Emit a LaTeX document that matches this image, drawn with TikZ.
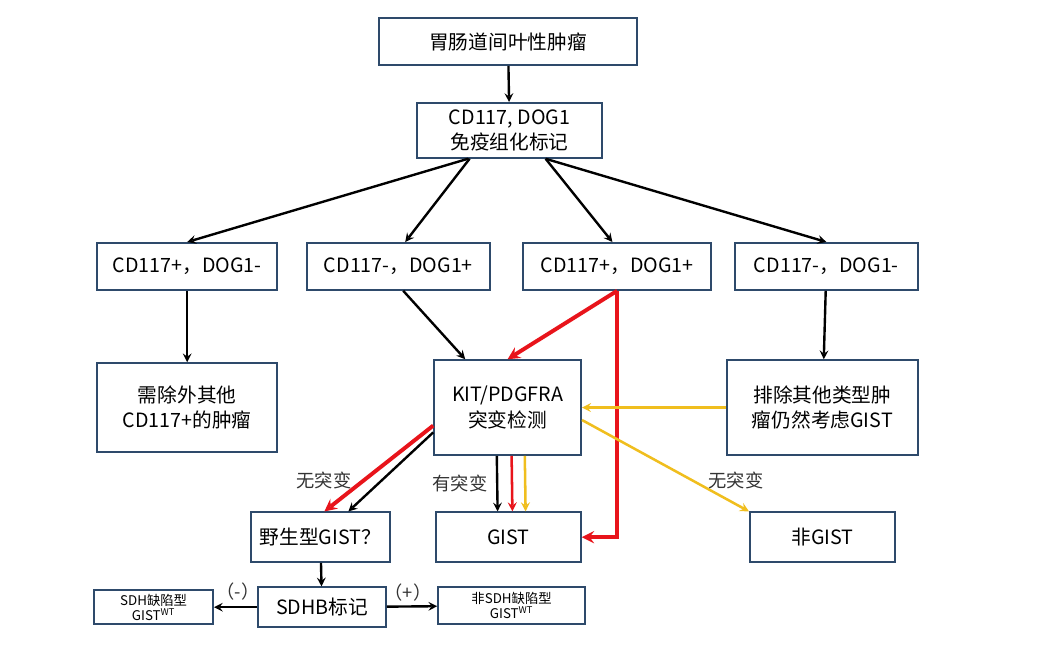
\documentclass[tikz,border=0pt]{standalone}
\usepackage{fontspec}
\setmainfont{Noto Sans CJK SC}
\definecolor{boxc}{HTML}{2E4A6B}
\definecolor{redc}{HTML}{E8141B}
\definecolor{yelc}{HTML}{F0BE1E}
\begin{document}
\begin{tikzpicture}[
    box/.style={rectangle, draw=boxc, line width=1.1pt, align=center, inner sep=0pt, font=\fontsize{14}{18}\selectfont},
    small/.style={box, font=\fontsize{9.5}{11}\selectfont},
    arrow/.style={line width=1.7pt,->,>=stealth},
    redarrow/.style={line width=2.8pt,->,>=stealth,draw=redc},
    yelarrow/.style={line width=1.8pt,->,>=stealth,draw=yelc},
    lab/.style={font=\fontsize{13}{15}\selectfont, text=black!80}
]
    \useasboundingbox (0,0) rectangle (25.95,-16.15);
    % Boxes
    \node [box, minimum width=6.45cm, minimum height=1.18cm] (top) at (12.70,-1.04) {胃肠道间叶性肿瘤};
    \node [box, minimum width=4.63cm, minimum height=1.38cm] (imm) at (12.74,-3.26) {CD117, DOG1\\免疫组化标记};
    \node [box, minimum width=4.5cm, minimum height=1.18cm] (pn) at (4.68,-6.66) {CD117+，DOG1-};
    \node [box, minimum width=4.58cm, minimum height=1.18cm] (np) at (9.96,-6.66) {CD117-，DOG1+};
    \node [box, minimum width=4.7cm, minimum height=1.18cm] (pp) at (15.43,-6.66) {CD117+，DOG1+};
    \node [box, minimum width=4.58cm, minimum height=1.18cm] (nn) at (20.66,-6.66) {CD117-，DOG1-};
    \node [box, minimum width=4.5cm, minimum height=2.23cm] (excl) at (4.68,-10.19) {需除外其他\\CD117+的肿瘤};
    \node [box, minimum width=3.68cm, minimum height=2.38cm] (kit) at (12.69,-10.19) {KIT/PDGFRA\\突变检测};
    \node [box, minimum width=4.78cm, minimum height=2.38cm] (other) at (20.56,-10.19) {排除其他类型肿\\瘤仍然考虑GIST};
    \node [box, minimum width=3.48cm, minimum height=1.25cm] (wild) at (8.01,-13.43) {野生型GIST？};
    \node [box, minimum width=3.63cm, minimum height=1.25cm] (gist) at (12.71,-13.43) {GIST};
    \node [box, minimum width=3.63cm, minimum height=1.25cm] (nogist) at (20.56,-13.43) {非GIST};
    \node [box, minimum width=3.2cm, minimum height=1.0cm] (sdhb) at (8.05,-15.18) {SDHB标记};
    \node [small, minimum width=2.98cm, minimum height=0.85cm] (sdhd) at (3.84,-15.18) {SDH缺陷型\\GIST$^{\mathrm{WT}}$};
    \node [small, minimum width=3.68cm, minimum height=0.93cm] (nsdh) at (12.79,-15.14) {非SDH缺陷型\\GIST$^{\mathrm{WT}}$};

    % Arrows
    \draw [arrow] (top) -- (imm);
    \draw [arrow] ([xshift=-1.04cm]imm.south) -- (pn.north);
    \draw [arrow] ([xshift=-1cm]imm.south) -- ([xshift=0.17cm]np.north);
    \draw [arrow] ([xshift=0.9cm]imm.south) -- ([xshift=-0.12cm]pp.north);
    \draw [arrow] ([xshift=0.9cm]imm.south) -- (nn.north);
    \draw [arrow] (pn) -- (excl);
    \draw [arrow] ([xshift=0.12cm]np.south) -- ([xshift=-1.06cm]kit.north);
    \draw [arrow] (nn) -- (other);
    \draw [redarrow] (pp.south) -- (kit.north);
    \draw [redarrow] (pp.south) |- (gist.east);
    \draw [yelarrow] (other.west) -- (kit.east);
    \draw [yelarrow] ([yshift=-0.31cm]kit.east) -- (nogist.north west);
    \draw [redarrow] ([yshift=-0.45cm]kit.west) -- ([xshift=0.1cm]wild.north);
    \draw [arrow] ([yshift=-0.62cm]kit.west) -- ([xshift=0.7cm]wild.north);
    \draw [arrow] ([xshift=-0.27cm]kit.south) -- ([xshift=-0.27cm]gist.north);
    \draw [redarrow, line width=1.8pt] ([xshift=0.1cm]kit.south) -- ([xshift=0.1cm]gist.north);
    \draw [yelarrow] ([xshift=0.43cm]kit.south) -- ([xshift=0.43cm]gist.north);
    \draw [arrow] (wild) -- (sdhb);
    \draw [arrow] (sdhb) -- (sdhd);
    \draw [arrow] (sdhb) -- (nsdh);

    % Labels
    \node [lab] (nomut) at (8.1,-12.0) {无突变};
    \node [lab] (mut) at (11.5,-12.08) {有突变};
    \node [lab] (nomut2) at (18.4,-12.0) {无突变};
    \node [lab] (neg) at (5.95,-14.8) {（-）};
    \node [lab] (pos) at (10.2,-14.82) {（+）};
\end{tikzpicture}
\end{document}
